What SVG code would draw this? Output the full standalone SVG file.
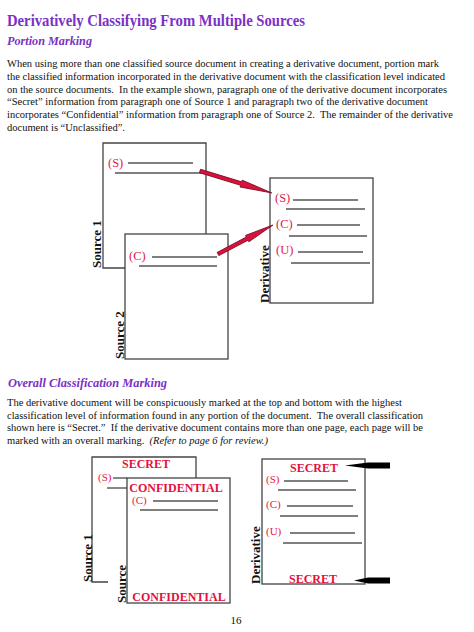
<svg xmlns="http://www.w3.org/2000/svg" width="474" height="632" viewBox="0 0 474 632">
<style>
.t{font-family:"Liberation Serif","Times New Roman",serif}
.title{font-size:16px;font-weight:bold;fill:#7b30c6}
.sub{font-size:13.5px;font-weight:bold;font-style:italic;fill:#7b30c6}
.body{font-size:11px;fill:#111}
.doc{fill:#fff;stroke:#444;stroke-width:1.3}
.edge{fill:none;stroke:#444;stroke-width:1.3}
.ln{stroke:#555;stroke-width:1.4}
.mk{font-size:12.5px;fill:#e0194b}
.mk2{font-size:11px;fill:#e0194b}
.cls{font-size:12px;font-weight:bold;fill:#e3103e}
.lab{font-size:13px;font-weight:bold;fill:#111}
.ra{fill:#d8123e;stroke:#7a0a20;stroke-width:0.8}
.ba{fill:#000}
</style>
<rect width="474" height="632" fill="#fff"/>
<text class="t title" x="7" y="26" textLength="298" lengthAdjust="spacingAndGlyphs">Derivatively Classifying From Multiple Sources</text>
<text class="t sub" x="7" y="45" textLength="85" lengthAdjust="spacingAndGlyphs">Portion Marking</text>
<g class="t body">
<text x="7" y="67" textLength="432" lengthAdjust="spacingAndGlyphs">When using more than one classified source document in creating a derivative document, portion mark</text>
<text x="7" y="80" textLength="438" lengthAdjust="spacingAndGlyphs">the classified information incorporated in the derivative document with the classification level indicated</text>
<text x="7" y="92.5" textLength="440" lengthAdjust="spacingAndGlyphs" xml:space="preserve">on the source documents.  In the example shown, paragraph one of the derivative document incorporates</text>
<text x="7" y="105" textLength="421" lengthAdjust="spacingAndGlyphs">“Secret” information from paragraph one of Source 1 and paragraph two of the derivative document</text>
<text x="7" y="118" textLength="446" lengthAdjust="spacingAndGlyphs" xml:space="preserve">incorporates “Confidential” information from paragraph one of Source 2.  The remainder of the derivative</text>
<text x="7" y="130.5" textLength="118" lengthAdjust="spacingAndGlyphs">document is “Unclassified”.</text>
</g>

<g id="source1-top">
<path class="edge" d="M125,268 H103 V143 H206 V234"/>
<text class="t mk" x="108" y="167">(S)</text>
<line class="ln" x1="128" y1="163" x2="193" y2="163"/>
<line class="ln" x1="115" y1="173" x2="205" y2="173"/>
<text class="t lab" transform="translate(101,268) rotate(-90)">Source 1</text>
</g>
<g id="source2-top">
<rect class="doc" x="125" y="234" width="103" height="125"/>
<text class="t mk" x="129" y="260">(C)</text>
<line class="ln" x1="152" y1="257" x2="217" y2="257"/>
<line class="ln" x1="139" y1="266" x2="217" y2="266"/>
<text class="t lab" transform="translate(124,359) rotate(-90)">Source 2</text>
</g>
<g id="derivative-top">
<rect class="doc" x="270" y="178" width="103" height="125"/>
<text class="t mk" x="275" y="202">(S)</text>
<line class="ln" x1="293" y1="200" x2="358" y2="200"/>
<line class="ln" x1="286" y1="209" x2="365" y2="209"/>
<text class="t mk" x="276" y="228">(C)</text>
<line class="ln" x1="297" y1="225" x2="360" y2="225"/>
<line class="ln" x1="289" y1="236" x2="367" y2="236"/>
<text class="t mk" x="276" y="254">(U)</text>
<line class="ln" x1="298" y1="252" x2="363" y2="252"/>
<line class="ln" x1="291" y1="263" x2="370" y2="263"/>
<text class="t lab" transform="translate(269,303) rotate(-90)">Derivative</text>
</g>
<g id="connectors-top">
<polygon class="ra" transform="translate(200,171) rotate(17)" points="0,-1.8 43,-1.8 43,-3.6 75,0 43,3.6 43,1.8 0,1.8"/>
<polygon class="ra" transform="translate(218,254) rotate(-27.8)" points="0,-1.8 33,-1.8 33,-3.6 62,0 33,3.6 33,1.8 0,1.8"/>
</g>

<text class="t sub" x="8" y="387" textLength="159" lengthAdjust="spacingAndGlyphs">Overall Classification Marking</text>
<g class="t body">
<text x="7" y="406" textLength="395" lengthAdjust="spacingAndGlyphs">The derivative document will be conspicuously marked at the top and bottom with the highest</text>
<text x="7" y="418.5" textLength="416" lengthAdjust="spacingAndGlyphs" xml:space="preserve">classification level of information found in any portion of the document.  The overall classification</text>
<text x="7" y="431" textLength="416" lengthAdjust="spacingAndGlyphs" xml:space="preserve">shown here is “Secret.”  If the derivative document contains more than one page, each page will be</text>
<text x="7" y="443.5" textLength="261" lengthAdjust="spacingAndGlyphs" xml:space="preserve">marked with an overall marking.  <tspan font-style="italic">(Refer to page 6 for review.)</tspan></text>
</g>

<g id="source1-bottom">
<path class="edge" d="M108,582 H92 V457 H196 V478"/>
<text class="t cls" x="146" y="468" text-anchor="middle">SECRET</text>
<text class="t mk2" x="98" y="481">(S)</text>
<line class="ln" x1="113" y1="478" x2="127" y2="478"/>
<line class="ln" x1="107" y1="488" x2="127" y2="488"/>
<text class="t lab" transform="translate(92,582) rotate(-90)">Source 1</text>
</g>
<g id="source2-bottom">
<rect class="doc" x="127" y="478" width="103" height="125"/>
<text class="t cls" x="176" y="492" text-anchor="middle">CONFIDENTIAL</text>
<text class="t mk2" x="132" y="504">(C)</text>
<line class="ln" x1="153" y1="501" x2="218" y2="501"/>
<line class="ln" x1="140" y1="510" x2="218" y2="510"/>
<text class="t cls" x="179" y="601" text-anchor="middle">CONFIDENTIAL</text>
<text class="t lab" transform="translate(126,603) rotate(-90)">Source</text>
</g>
<g id="derivative-bottom">
<rect class="doc" x="262" y="459" width="103" height="125"/>
<text class="t cls" x="314" y="472" text-anchor="middle">SECRET</text>
<text class="t mk2" x="266" y="483">(S)</text>
<line class="ln" x1="284" y1="481" x2="348" y2="481"/>
<line class="ln" x1="278" y1="490" x2="356" y2="490"/>
<text class="t mk2" x="266" y="508">(C)</text>
<line class="ln" x1="287" y1="506" x2="353" y2="506"/>
<line class="ln" x1="280" y1="516" x2="358" y2="516"/>
<text class="t mk2" x="266" y="535">(U)</text>
<line class="ln" x1="290" y1="533" x2="355" y2="533"/>
<line class="ln" x1="283" y1="543" x2="362" y2="543"/>
<text class="t cls" x="313" y="583" text-anchor="middle">SECRET</text>
<text class="t lab" transform="translate(260,584) rotate(-90)">Derivative</text>
</g>
<g id="connectors-bottom">
<polygon class="ba" points="345,465.5 368,462.5 390,462.5 390,468.5 368,468.5"/>
<polygon class="ba" points="354,580.5 368,577.5 390,577.5 390,583.5 368,583.5"/>
</g>
<text class="t body" x="236" y="624" font-size="13" text-anchor="middle">16</text>
</svg>
